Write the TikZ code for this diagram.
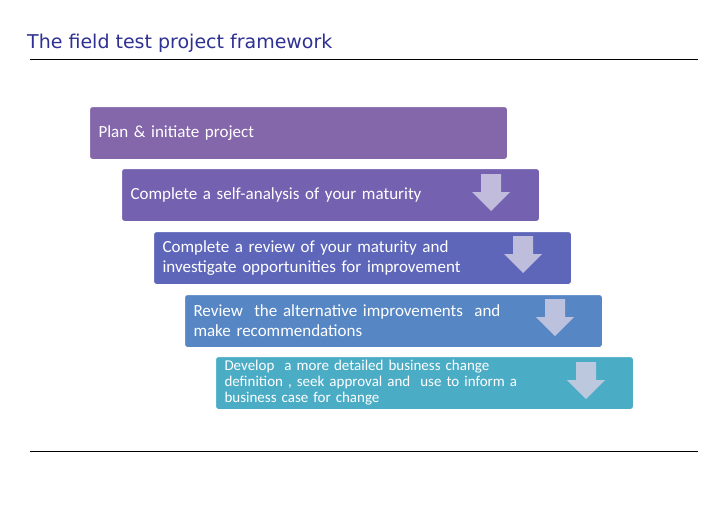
\documentclass[tikz,border=0pt]{standalone}
\usepackage{fontspec}
\setmainfont{Carlito}
\newfontfamily\titlefont{DejaVu Sans}
\definecolor{c1}{HTML}{8466AA}
\definecolor{c2}{HTML}{7461B0}
\definecolor{c3}{HTML}{5E66BA}
\definecolor{c4}{HTML}{5686C4}
\definecolor{c5}{HTML}{4BACC6}
\definecolor{tc}{HTML}{2E3192}
\definecolor{ac}{HTML}{CFCDE3}
\begin{document}
\begin{tikzpicture}[x=1pt,y=-1pt,
  stepbox/.style={draw=white,line width=1pt,rounded corners=3pt,minimum width=418pt,minimum height=53pt,anchor=north west,text=white,align=left,text width=400pt,inner xsep=6pt,font=\fontsize{17}{20}\selectfont},
  dn/.style={fill=ac,opacity=0.85}]
\useasboundingbox (0,0) rectangle (728,504);
\node[anchor=west,text=tc,font=\titlefont\fontsize{19}{22}\selectfont,inner sep=0] (t) at (27,43) {The field test project framework};
\draw[black] (30,59) -- (698,59);
\draw[black] (30,451) -- (698,451);
\node[stepbox,fill=c1] (b1) at (89,106) {Plan \& initiate project};
\node[stepbox,fill=c2] (b2) at (121,168) {Complete a self-analysis of your maturity};
\node[stepbox,fill=c3] (b3) at (153,231) {Complete a review of your maturity and\\investigate opportunities for improvement};
\node[stepbox,fill=c4] (b4) at (184,294) {Review\ \ the alternative improvements\ \ and\\make recommendations};
\node[stepbox,fill=c5,font=\fontsize{15}{16}\selectfont] (b5) at (215,356) {Develop\ \ a more detailed business change\\definition , seek approval and\ \ use to inform a\\business case for change};
\foreach \n in {b1,b2,b3,b4}{
  \fill[dn] ([xshift=-27pt,yshift=-14pt]\n.south east) -- ++(20,0) -- ++(0,18) -- ++(9,0) -- ++(-19,19) -- ++(-19,-19) -- ++(9,0) -- cycle;
}
\end{tikzpicture}
\end{document}
